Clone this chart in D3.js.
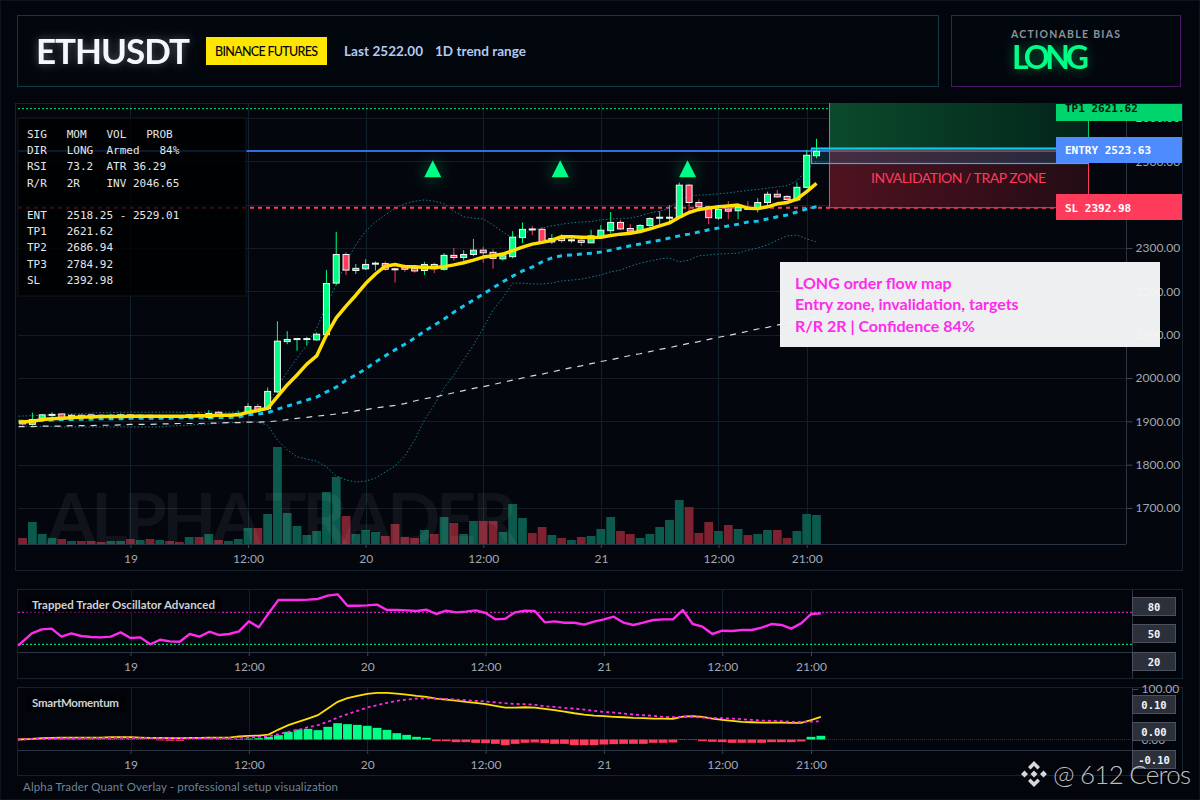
<!DOCTYPE html>
<html>
<head>
<meta charset="utf-8">
<script src="https://cdn.jsdelivr.net/npm/d3@7"></script>
<style>
  html, body { margin: 0; background: #02050c; }
  svg { display: block; }
  text { font-family: Lato, sans-serif; }
  .mono { font-family: "DejaVu Sans Mono", monospace; }
</style>
</head>
<body>
<div id="chart"></div>
<script>
// hourly bars, 18th 13:00 -> 21st 22:00
const tickBars = [11, 23, 35, 47, 59, 71, 80]
const tickLabels = ["19", "12:00", "20", "12:00", "21", "12:00", "21:00"]
const priceTicks = [1700, 1800, 1900, 2000, 2100, 2200, 2300, 2400, 2500, 2600]

const opens = [1900,1893,1907,1914,1917,1911,1914,1915,1914,1911,1912,1915,1911,1914,1909,1913,1912,1909,1915,1909,1921,1913,1915,1922,1934,1929,1968,2084,2089,2089,2088,2100,2219,2285,2248,2252,2263,2264,2252,2258,2253,2248,2262,2251,2283,2278,2285,2295,2290,2275,2280,2324,2344,2343,2314,2322,2318,2318,2312,2326,2340,2359,2345,2340,2352,2369,2370,2371,2445,2405,2395,2369,2390,2386,2394,2391,2405,2424,2419,2411,2440,2513]
const highs = [1903,1920,1917,1921,1918,1917,1917,1918,1916,1917,1918,1917,1917,1916,1916,1915,1914,1917,1922,1926,1923,1917,1925,1942,1940,1978,2131,2108,2092,2095,2105,2249,2337,2290,2263,2274,2269,2269,2255,2262,2256,2268,2266,2288,2300,2295,2321,2303,2297,2286,2339,2359,2351,2348,2332,2332,2330,2325,2342,2353,2383,2365,2355,2355,2371,2385,2399,2451,2448,2412,2398,2395,2408,2399,2408,2415,2430,2434,2422,2451,2526,2552]
const lows = [1890,1890,1904,1909,1906,1908,1908,1909,1908,1909,1910,1907,1908,1906,1907,1907,1906,1907,1908,1905,1910,1910,1912,1920,1925,1926,1965,2078,2063,2076,2086,2098,2215,2238,2240,2249,2248,2248,2220,2245,2243,2238,2242,2248,2271,2271,2281,2266,2252,2271,2276,2311,2330,2309,2309,2312,2312,2305,2312,2322,2334,2342,2334,2334,2347,2355,2358,2371,2384,2384,2355,2365,2366,2366,2388,2382,2399,2415,2409,2407,2438,2507]
const closes = [1894,1904,1915,1916,1908,1914,1911,1911,1911,1914,1915,1911,1914,1909,1913,1910,1909,1915,1911,1918,1914,1915,1918,1934,1928,1969,2085,2089,2091,2091,2101,2218,2285,2249,2253,2262,2265,2251,2251,2251,2247,2262,2252,2283,2278,2285,2295,2289,2276,2282,2325,2343,2342,2313,2322,2317,2319,2313,2328,2341,2359,2344,2339,2352,2368,2371,2371,2445,2405,2395,2370,2389,2385,2394,2389,2405,2424,2418,2412,2440,2514,2523]
const volumes = [6,22,10,6,5,3,3,3,2,3,3,5,4,5,4,3,2,7,7,10,4,3,5,16,16,30,97,31,18,9,13,52,67,28,10,14,12,8,20,7,6,14,10,27,21,10,23,23,23,12,40,26,11,17,9,6,4,7,8,15,27,13,10,6,10,17,24,44,37,11,22,13,19,15,9,10,14,14,6,13,30,29]

const emaFast = [1898,1900,1904,1906,1907,1908,1910,1910,1911,1911,1911,1912,1912,1912,1912,1912,1912,1912,1913,1913,1914,1914,1915,1921,1925,1930,1957,1984,2007,2032,2051,2099,2139,2166,2191,2218,2240,2258,2262,2257,2257,2255,2255,2257,2261,2266,2272,2279,2282,2286,2294,2302,2309,2313,2318,2326,2326,2325,2324,2325,2329,2332,2334,2338,2344,2351,2358,2371,2382,2389,2392,2395,2397,2399,2392,2391,2395,2402,2405,2413,2430,2449]
const emaSlow = [1900,1901,1902,1903,1904,1904,1905,1905,1906,1906,1906,1907,1907,1907,1907,1907,1908,1908,1908,1908,1909,1909,1910,1915,1917,1920,1928,1935,1942,1949,1956,1968,1979,1995,2007,2021,2037,2051,2065,2078,2092,2108,2122,2136,2152,2166,2180,2194,2208,2222,2235,2247,2256,2268,2277,2282,2284,2286,2288,2291,2295,2300,2305,2309,2314,2318,2323,2328,2332,2337,2342,2346,2351,2355,2360,2362,2367,2372,2376,2383,2390,2395]
const maLong = [1888,1888,1889,1889,1889,1890,1890,1890,1891,1891,1892,1893,1893,1893,1894,1894,1895,1895,1895,1896,1896,1897,1897,1898,1898,1899,1901,1904,1907,1909,1912,1914,1917,1920,1924,1927,1931,1934,1937,1941,1947,1952,1956,1961,1966,1971,1976,1980,1985,1990,1995,2000,2005,2009,2014,2019,2024,2028,2033,2038,2042,2047,2052,2056,2061,2066,2070,2075,2080,2084,2089,2094,2098,2103,2108,2113,2117,2122,2127,2131,2136,2140]
const bandUpper = [1912,1913,1914,1915,1916,1917,1918,1919,1920,1920,1921,1921,1921,1921,1921,1921,1921,1921,1921,1921,1921,1921,1921,1921,1923,1935,1979,2014,2046,2076,2115,2168,2215,2268,2307,2339,2360,2376,2392,2402,2408,2411,2408,2402,2385,2372,2369,2367,2353,2337,2323,2332,2342,2346,2351,2355,2358,2360,2361,2365,2367,2368,2369,2374,2381,2385,2392,2411,2420,2422,2423,2425,2427,2430,2433,2435,2438,2441,2444,2455,2480,2501]
const bandLower = [1889,1888,1888,1888,1887,1887,1887,1887,1887,1887,1887,1887,1887,1887,1887,1889,1890,1891,1893,1894,1896,1897,1898,1899,1898,1891,1857,1834,1818,1813,1808,1795,1774,1765,1760,1762,1769,1783,1797,1820,1857,1903,1938,1977,2007,2042,2076,2115,2157,2185,2219,2219,2217,2217,2219,2224,2226,2228,2233,2238,2245,2249,2258,2265,2270,2275,2277,2268,2272,2282,2284,2286,2287,2288,2295,2300,2307,2318,2328,2330,2321,2314]

const oscValues = [17.4,40.5,48,49.3,34.3,40.5,35.5,33.6,33,34.3,42.4,31.8,33,19.9,28.6,25.5,24.9,39.3,34.3,43.6,37.4,39.3,44.3,63,51.8,78,103,103,103,103.7,105,111.2,113.7,92.4,92.4,93,94.3,84.3,84.3,83.7,82.4,84.9,76.8,83,79.9,81.2,83.7,78.7,66.8,68,79.9,83,82.4,61.2,63,60.5,60.5,56.8,62.4,66.8,71.8,60.5,56.2,60.5,65.5,66.8,66.8,84.3,58,53,39.3,45.5,44.9,46.8,46.8,51.2,58,56.2,49.3,59.3,76.8,78]
const momLine = [0,1.2,2.6,3.2,3.9,3.9,3.9,3.9,3.9,4.5,4.5,4.5,3.9,3.2,3.2,2.6,2.6,3.2,3.2,3.9,3.9,3.9,5.9,7.2,7.8,9.8,19.7,28.3,34.9,41.5,48.1,61.3,74.5,81.8,86.4,90.3,92.3,92.3,91,89,86.4,84.4,81.1,79.1,77.1,74.5,72.5,69.9,66.6,63.3,63.3,63.9,63.3,60.6,58,55.4,52,49.4,47.4,46.1,45,44.1,42.8,42.2,41.5,41.5,40.8,45.5,46.1,44.8,41.5,38.9,36.9,34.9,34.2,33.6,33.6,33.6,32.9,32.9,38.2,44.8]
const momSignal = [0,0.8,1.5,2,2.5,2.8,3,3.2,3.4,3.5,3.5,3.5,3.4,3.2,3,2.8,2.6,2.6,2.6,2.8,3,3.2,3.6,4.4,5,6.5,10.5,15.1,19,24.3,28.3,34.9,43.5,50.1,56.7,63.3,67.9,72.5,76.5,79.1,81.1,81.8,81.1,80.4,79.1,77.8,76.5,75.2,73.8,71.9,70.5,69.9,68.6,65.9,64.6,62.6,61.3,59.3,56.7,54.7,53.4,51.4,49.4,48.1,46.8,44.8,44.1,44.8,44.8,43.5,42.8,42.2,41.5,40.2,38.9,37.5,36.9,36.2,34.9,34.9,35.5,36.2]
const momHist = [0.5,0.6,0.8,0.8,0.9,0.9,0.8,0.8,0.7,0.8,0.7,0.6,0.5,-0.4,-1.8,-2.6,-2.6,0.4,0.5,0.6,0.7,0.8,1.2,1.8,2.6,5.3,8.6,15.2,19.8,21.1,18.5,25.1,32.3,30.4,29,27.1,23.1,19.1,12.5,9.2,5.3,3.3,-3.3,-3.3,-5.3,-5.3,-6.6,-7.3,-8.6,-11.2,-8.6,-6.6,-5.9,-7.3,-8.6,-8.6,-11.2,-11.2,-11.2,-9.9,-9.2,-8.6,-8.6,-8.6,-6.6,-6.6,-5.9,0.6,0.6,-3.3,-4.6,-5.3,-6.6,-6.6,-6.6,-6.6,-5.3,-5.3,-5.3,-4,5.3,7.3]

const signalBars = [42, 55, 68]
const signalPrice = 2482
const tp1 = 2621.62, entry = 2523.63, sl = 2392.98

const tableRows = [
  ["SIG   MOM   VOL   PROB", 134],
  ["DIR   LONG  Armed   84%", 150],
  ["RSI   73.2  ATR 36.29", 166],
  ["R/R   2R    INV 2046.65", 183],
  ["ENT   2518.25 - 2529.01", 215],
  ["TP1   2621.62", 231],
  ["TP2   2686.94", 247],
  ["TP3   2784.92", 264],
  ["SL    2392.98", 280]
]
const noteLines = ["LONG order flow map", "Entry zone, invalidation, targets", "R/R 2R | Confidence 84%"]

const green = "#00ff85", red = "#ff3b5c", yellow = "#ffe000", magenta = "#ff2bec"

const x = d3.scaleLinear([11, 80], [130.4, 806.7])
// the two lower panes run a little wider than the price pane
const xSub = d3.scaleLinear([11, 80], [130.5, 811])
const y = d3.scaleLinear([1700, 2300], [508, 248])
const yVol = d3.scaleLinear([0, 97], [544, 447])
const yOsc = d3.scaleLinear([20, 80], [644.3, 612.3])
const yMom = d3.scaleLinear([-100, 100], [790, 689])

const svg = d3.select("#chart").append("svg").attr("width", 1200).attr("height", 800)
const defs = svg.append("defs")

function glow(id, dev, strength) {
  const f = defs.append("filter").attr("id", id)
    .attr("x", "-80%").attr("y", "-80%").attr("width", "260%").attr("height", "260%")
  f.append("feGaussianBlur").attr("in", "SourceGraphic").attr("stdDeviation", dev).attr("result", "b")
  f.append("feComponentTransfer").attr("in", "b").attr("result", "soft")
    .append("feFuncA").attr("type", "linear").attr("slope", strength)
  const m = f.append("feMerge")
  m.append("feMergeNode").attr("in", "soft")
  m.append("feMergeNode").attr("in", "SourceGraphic")
}
glow("glowTitle", 5, 0.35)
glow("glowLong", 6, 0.4)
glow("glowTri", 8, 0.45)

function fade(id, stops) {
  const g = defs.append("linearGradient").attr("id", id).attr("x1", 0).attr("x2", 1).attr("y1", 0).attr("y2", 0)
  stops.forEach(([o, c]) => g.append("stop").attr("offset", o).attr("stop-color", c))
}
fade("fadeGreen", [[0, "#0b4a2c"], [1, "#03241a"]])
fade("fadeRed", [[0, "#4f1220"], [1, "#230c15"]])

defs.append("clipPath").attr("id", "plotClip").append("rect").attr("x", 18).attr("y", 103).attr("width", 1108).attr("height", 441)

svg.append("rect").attr("width", 1200).attr("height", 800).attr("fill", "#02050c")
svg.append("rect").attr("x", 0.5).attr("y", 0.5).attr("width", 1199).attr("height", 799).attr("fill", "none").attr("stroke", "#0c1420")

// header
svg.append("rect").attr("x", 17.5).attr("y", 15.5).attr("width", 921).attr("height", 71).attr("fill", "#02060d").attr("stroke", "#0e3a46")
svg.append("rect").attr("x", 951.5).attr("y", 15.5).attr("width", 229).attr("height", 71).attr("fill", "#02060d").attr("stroke", "#4a1663")
svg.append("text").attr("x", 36).attr("y", 64).attr("fill", "#f4f7fb").attr("font-size", 35).attr("font-weight", 700)
  .attr("textLength", 154).attr("filter", "url(#glowTitle)").text("ETHUSDT")
svg.append("rect").attr("x", 206).attr("y", 37).attr("width", 121).attr("height", 28).attr("fill", "#ffe600")
svg.append("text").attr("x", 215).attr("y", 55.5).attr("fill", "#05070c").attr("font-size", 12.5).attr("font-weight", 500).attr("textLength", 103).text("BINANCE FUTURES")
svg.append("text").attr("x", 344).attr("y", 56).attr("fill", "#b5c9f2").attr("font-size", 13.5).attr("font-weight", 700).attr("textLength", 79).text("Last 2522.00")
svg.append("text").attr("x", 435).attr("y", 56).attr("fill", "#b5c9f2").attr("font-size", 13.5).attr("font-weight", 700).attr("textLength", 91).text("1D trend range")
svg.append("text").attr("x", 1011).attr("y", 38).attr("fill", "#8b939d").attr("font-size", 10.5).attr("font-weight", 700).attr("textLength", 109).text("ACTIONABLE BIAS")
svg.append("text").attr("x", 1012).attr("y", 69).attr("fill", green).attr("font-size", 32).attr("font-weight", 700)
  .attr("textLength", 77).attr("filter", "url(#glowLong)").text("LONG")

// panel frames
const frame = "#16222e"
svg.append("rect").attr("x", 15.5).attr("y", 103.5).attr("width", 1167).attr("height", 467).attr("fill", "#03060d").attr("stroke", frame)
svg.append("rect").attr("x", 17.5).attr("y", 589.5).attr("width", 1165).attr("height", 89).attr("fill", "#03050c").attr("stroke", frame)
svg.append("rect").attr("x", 17.5).attr("y", 687.5).attr("width", 1165).attr("height", 88).attr("fill", "#03050c").attr("stroke", frame)

// grids
const grid = svg.append("g")
grid.selectAll("line.h").data(priceTicks).join("line")
  .attr("x1", 18).attr("x2", 1126).attr("y1", d => Math.round(y(d)) + 0.5).attr("y2", d => Math.round(y(d)) + 0.5)
  .attr("stroke", "#171c24")
const panes = [[x, 104, 544], [xSub, 590, 652], [xSub, 688, 750]]
panes.forEach(([sx, top, bottom]) => {
  grid.append("g").selectAll("line").data(tickBars).join("line")
    .attr("x1", d => Math.round(sx(d)) + 0.5).attr("x2", d => Math.round(sx(d)) + 0.5)
    .attr("y1", top).attr("y2", bottom).attr("stroke", "#11202a")
})

// axes
function timeAxis(sx, yPos) {
  const g = svg.append("g").attr("transform", `translate(0,${yPos})`)
    .call(d3.axisBottom(sx).tickValues(tickBars).tickFormat((d, i) => tickLabels[i]).tickSize(4).tickPadding(6))
  g.select(".domain").remove()
  g.selectAll("line").attr("stroke", "#3b4654")
  g.selectAll("text").attr("fill", "#a2a8b2").attr("font-size", 12).attr("font-family", "Lato, sans-serif")
  svg.append("line").attr("x1", 18).attr("x2", yPos == 544 ? 1126 : 1132).attr("y1", yPos + 0.5).attr("y2", yPos + 0.5).attr("stroke", "#2b3542")
}
timeAxis(x, 544)
timeAxis(xSub, 652)
timeAxis(xSub, 750)

const priceAxis = svg.append("g").attr("transform", "translate(1126.5,0)")
  .call(d3.axisRight(y).tickValues(priceTicks).tickFormat(d3.format(".2f")).tickSize(6).tickPadding(3))
priceAxis.select(".domain").attr("stroke", "#2b3542").attr("d", "M0,104V544")
priceAxis.selectAll("line").attr("stroke", "#3b4654")
priceAxis.selectAll("text").attr("fill", "#a2a8b2").attr("font-size", 12).attr("font-family", "Lato, sans-serif")

svg.append("line").attr("x1", 1132.5).attr("x2", 1132.5).attr("y1", 590).attr("y2", 678).attr("stroke", "#2b3542")
svg.append("line").attr("x1", 1132.5).attr("x2", 1132.5).attr("y1", 688).attr("y2", 775).attr("stroke", "#2b3542")

const momAxis = svg.append("g").attr("transform", "translate(1132.5,0)")
  .call(d3.axisRight(yMom).tickValues([100, 0]).tickFormat(d3.format(".2f")).tickSize(6).tickPadding(3))
momAxis.select(".domain").remove()
momAxis.selectAll("line").attr("stroke", "#3b4654")
momAxis.selectAll("text").attr("fill", "#a2a8b2").attr("font-size", 12).attr("font-family", "Lato, sans-serif")

const plot = svg.append("g").attr("clip-path", "url(#plotClip)")

// volume
plot.append("g").selectAll("rect").data(volumes).join("rect")
  .attr("x", (d, i) => x(i) - 4.4).attr("width", 8.8)
  .attr("y", d => yVol(d)).attr("height", d => yVol(0) - yVol(d))
  .attr("fill", (d, i) => closes[i] >= opens[i] ? "#0b5a4d" : "#7e2130")
plot.append("text").attr("x", 47).attr("y", 544).attr("fill", "#fff").attr("fill-opacity", 0.055)
  .attr("font-size", 70).attr("font-weight", 700).attr("textLength", 470).text("ALPHA TRADER")

// level lines
const levels = plot.append("g")
levels.append("line").attr("x1", 18).attr("x2", 1056).attr("y1", y(tp1)).attr("y2", y(tp1))
  .attr("stroke", "#00e07a").attr("stroke-dasharray", "2 2")
levels.append("line").attr("x1", 18).attr("x2", 1056).attr("y1", y(entry)).attr("y2", y(entry))
  .attr("stroke", "#2e6fe8").attr("stroke-width", 2)
levels.append("line").attr("x1", 18).attr("x2", 1056).attr("y1", y(sl)).attr("y2", y(sl))
  .attr("stroke", red).attr("stroke-width", 2).attr("stroke-dasharray", "4 4")

// zones
const zones = plot.append("g")
zones.append("rect").attr("x", 829).attr("y", 103).attr("width", 259).attr("height", y(entry) - 103).attr("fill", "url(#fadeGreen)")
zones.append("line").attr("x1", 829.5).attr("x2", 829.5).attr("y1", 103).attr("y2", y(entry)).attr("stroke", "#00c86f")
zones.append("line").attr("x1", 1088.5).attr("x2", 1088.5).attr("y1", 121).attr("y2", y(entry)).attr("stroke", "#00c86f")
zones.append("rect").attr("x", 829.5).attr("y", y(entry)).attr("width", 259).attr("height", y(sl) - y(entry))
  .attr("fill", "url(#fadeRed)").attr("stroke", red)
zones.append("rect").attr("x", 811.5).attr("y", 148.5).attr("width", 277).attr("height", 15)
  .attr("fill", "#2a9ccc").attr("fill-opacity", 0.2).attr("stroke", "#25b8e6").attr("stroke-width", 1.2)
zones.append("line").attr("x1", 811).attr("x2", 1056).attr("y1", 148.5).attr("y2", 148.5).attr("stroke", "#14c8ee").attr("stroke-width", 2)
zones.append("text").attr("x", 871).attr("y", 183).attr("fill", red).attr("font-size", 14)
  .attr("textLength", 175).text("INVALIDATION / TRAP ZONE")

// bands and averages
const line = d3.line().x((d, i) => x(i == 0 ? -0.4 : i)).y(d => y(d))
const lines = plot.append("g").attr("fill", "none")
lines.append("path").attr("d", line(bandUpper)).attr("stroke", "#1b7a8c").attr("stroke-dasharray", "1.5 2")
lines.append("path").attr("d", line(bandLower)).attr("stroke", "#1b7a8c").attr("stroke-dasharray", "1.5 2")
lines.append("path").attr("d", line(maLong)).attr("stroke", "#d8dadd").attr("stroke-width", 1.2).attr("stroke-dasharray", "6 6")
lines.append("path").attr("d", line(emaSlow)).attr("stroke", "#12c6ee").attr("stroke-width", 3).attr("stroke-dasharray", "5 5")

// candles
const candles = plot.append("g").selectAll("g").data(closes).join("g")
candles.append("line")
  .attr("x1", (d, i) => x(i)).attr("x2", (d, i) => x(i))
  .attr("y1", (d, i) => y(highs[i])).attr("y2", (d, i) => y(lows[i]))
  .attr("stroke", (d, i) => d >= opens[i] ? green : red)
candles.append("rect")
  .attr("x", (d, i) => x(i) - 3).attr("width", 6)
  .attr("y", (d, i) => y(Math.max(d, opens[i])))
  .attr("height", (d, i) => Math.max(1, Math.abs(y(d) - y(opens[i]))))
  .attr("fill", (d, i) => d >= opens[i] ? green : red)
  .attr("stroke", "#f2f5f3")

plot.append("path").attr("d", line(emaFast)).attr("fill", "none").attr("stroke", yellow).attr("stroke-width", 3.5).attr("stroke-linejoin", "round")

// long signals
plot.append("g").selectAll("path").data(signalBars).join("path")
  .attr("transform", d => `translate(${x(d) - 1.5},${y(signalPrice)})`)
  .attr("d", "M0,-9L8.5,8L-8.5,8Z").attr("fill", green).attr("filter", "url(#glowTri)")

// levels table
svg.append("rect").attr("x", 18).attr("y", 118).attr("width", 228).attr("height", 178)
  .attr("fill", "#000").attr("fill-opacity", 0.78).attr("stroke", "#141820")
svg.append("g").selectAll("text").data(tableRows).join("text")
  .attr("class", "mono").attr("x", 27).attr("y", d => d[1] + 4)
  .attr("fill", "#e4e7eb").attr("font-size", 11)
  .style("white-space", "pre").text(d => d[0])

// price tags
function tag(yTop, h, fill, color, label, textY) {
  svg.append("rect").attr("x", 1056).attr("y", yTop).attr("width", 126).attr("height", h).attr("fill", fill)
  svg.append("text").attr("class", "mono").attr("x", 1065).attr("y", textY).attr("fill", color)
    .attr("font-size", 11).attr("font-weight", 700).text(label)
}
tag(104, 17, "#00d46c", "#04160d", "TP1 2621.62", 112)
tag(137, 26, "#4d8bff", "#fff", "ENTRY 2523.63", 154)
tag(194, 26, "#ff3b5c", "#fff", "SL 2392.98", 211.5)

// note box
svg.append("rect").attr("x", 780).attr("y", 262).attr("width", 380).attr("height", 85).attr("fill", "#f6f7f8").attr("fill-opacity", 0.97)
svg.append("g").selectAll("text").data(noteLines).join("text")
  .attr("x", 795).attr("y", (d, i) => 288.5 + i * 21.5).attr("fill", magenta)
  .attr("font-size", 16).attr("font-weight", 700).text(d => d)

// oscillator panel
const oscPanel = svg.append("g")
oscPanel.append("line").attr("x1", 18).attr("x2", 1132).attr("y1", yOsc(80)).attr("y2", yOsc(80)).attr("stroke", magenta).attr("stroke-dasharray", "2 2")
oscPanel.append("line").attr("x1", 18).attr("x2", 1132).attr("y1", yOsc(20)).attr("y2", yOsc(20)).attr("stroke", green).attr("stroke-dasharray", "2 2")
oscPanel.append("path").attr("fill", "none").attr("stroke", magenta).attr("stroke-width", 2.4).attr("stroke-linejoin", "round")
  .attr("d", d3.line().x((d, i) => xSub(i == 0 ? -0.4 : i)).y(d => yOsc(d))(oscValues))
oscPanel.append("rect").attr("x", 26).attr("y", 597).attr("width", 195).attr("height", 17).attr("fill", "#000").attr("fill-opacity", 0.55)
oscPanel.append("text").attr("x", 32).attr("y", 609).attr("fill", "#cdd2d9").attr("font-size", 11.5).attr("font-weight", 700).attr("textLength", 183).text("Trapped Trader Oscillator Advanced")

// momentum panel
const momPanel = svg.append("g")
momPanel.append("line").attr("x1", 18).attr("x2", 1132).attr("y1", yMom(0)).attr("y2", yMom(0)).attr("stroke", "#2a2f38").attr("stroke-dasharray", "1 1")
momPanel.append("g").selectAll("rect").data(momHist).join("rect")
  .attr("x", (d, i) => xSub(i) - 4.4).attr("width", 8.8)
  .attr("y", d => yMom(Math.max(d, 0))).attr("height", d => Math.abs(yMom(d) - yMom(0)))
  .attr("fill", d => d >= 0 ? green : red)
const momLineGen = d3.line().x((d, i) => xSub(i == 0 ? -0.4 : i)).y(d => yMom(d))
momPanel.append("path").attr("fill", "none").attr("stroke", yellow).attr("stroke-width", 1.8).attr("d", momLineGen(momLine))
momPanel.append("path").attr("fill", "none").attr("stroke", magenta).attr("stroke-width", 1.8).attr("stroke-dasharray", "3 3").attr("d", momLineGen(momSignal))
momPanel.append("rect").attr("x", 26).attr("y", 695).attr("width", 99).attr("height", 17).attr("fill", "#000").attr("fill-opacity", 0.55)
momPanel.append("text").attr("x", 32).attr("y", 707).attr("fill", "#cdd2d9").attr("font-size", 11.5).attr("font-weight", 700).attr("textLength", 87).text("SmartMomentum")

// side boxes
const sideBoxes = [["80", 597.5], ["50", 624.5], ["20", 652.5], ["0.10", 695.5], ["0.00", 722.5], ["-0.10", 750.5]]
const side = svg.append("g").selectAll("g").data(sideBoxes).join("g")
side.append("rect").attr("x", 1132.5).attr("y", d => d[1]).attr("width", 43).attr("height", 18)
  .attr("fill", "#2b303b").attr("stroke", "#4a5260")
side.append("text").attr("class", "mono").attr("x", 1154).attr("y", d => d[1] + 13).attr("text-anchor", "middle")
  .attr("fill", "#f2f4f7").attr("font-size", 10.5).attr("font-weight", 700).text(d => d[0])

// footer
svg.append("text").attr("x", 23).attr("y", 791).attr("fill", "#6d8494").attr("font-size", 11.5).attr("textLength", 315).text("Alpha Trader Quant Overlay - professional setup visualization")

// corner mark
const mark = svg.append("g").attr("transform", "translate(1034,774)").attr("fill", "#d8d8d8")
mark.append("path").attr("d", "M0,-13L6,-7L3.5,-4.5L0,-8L-3.5,-4.5L-6,-7ZM0,13L6,7L3.5,4.5L0,8L-3.5,4.5L-6,7ZM-13,0L-9.5,-3.5L-6,0L-9.5,3.5ZM13,0L9.5,-3.5L6,0L9.5,3.5ZM0,-3.5L3.5,0L0,3.5L-3.5,0Z")
svg.append("text").attr("x", 1053).attr("y", 784).attr("fill", "#d8d8d8").attr("fill-opacity", 0.9).attr("font-size", 26).attr("font-weight", 300).attr("textLength", 138).text("@ 612 Ceros")
</script>
</body>
</html>
